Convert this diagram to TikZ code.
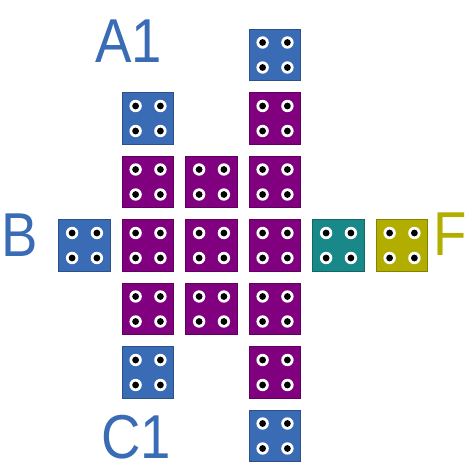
\documentclass[tikz,border=0pt]{standalone}
\usepackage{fontspec}
\setmainfont{Liberation Sans}
\usetikzlibrary{positioning}
\definecolor{pinblue}{RGB}{58,107,181}
\definecolor{pinpurple}{RGB}{128,0,128}
\definecolor{pinteal}{RGB}{24,136,136}
\definecolor{pinolive}{RGB}{178,174,0}
\tikzset{
  header/.style={draw=#1!75!black,fill=#1,line width=0.6pt,minimum size=51.5pt,
    inner sep=0pt,
    path picture={
      \foreach \dx in {-12.4,12.4}
        \foreach \dy in {-12.5,12.5} {
          \fill[white] ([shift={(\dx pt,\dy pt)}]path picture bounding box.center) circle (6.2pt);
          \fill[black] ([shift={(\dx pt,\dy pt)}]path picture bounding box.center) circle (3.4pt);
        }
    }},
  tag/.style={text=#1,anchor=base west,inner sep=0pt,xscale=0.88,transform shape,
    font=\fontsize{62}{62}\selectfont}
}

\begin{document}
\begin{tikzpicture}[x=1pt,y=1pt]
        \useasboundingbox (0,0) rectangle (474,474);
        % top arm
        \node[header=pinblue] (b03) at (275,419) {};
        \node[header=pinblue] (b11) at (148,355.5) {};
        \node[header=pinpurple] (b13) at (275,355.5) {};
        % middle
        \foreach \c/\x in {1/148,2/211.5,3/275} {
          \node[header=pinpurple] (b2\c) at (\x,292) {};
          \node[header=pinpurple] (b3\c) at (\x,228.5) {};
          \node[header=pinpurple] (b4\c) at (\x,165) {};
        }
        \node[header=pinblue] (b30) at (84.5,228.5) {};
        \node[header=pinteal] (b34) at (338.5,228.5) {};
        \node[header=pinolive] (b35) at (402,228.5) {};
        % bottom arm
        \node[header=pinblue] (b51) at (148,101.5) {};
        \node[header=pinpurple] (b53) at (275,101.5) {};
        \node[header=pinblue] (b63) at (275,38) {};
        % labels
        \node[tag=pinblue] (la) at (95,411) {A1};
        \node[tag=pinblue] (lb) at (1,217) {B};
        \node[tag=pinolive] (lf) at (433,218) {F};
        \node[tag=pinblue] (lc) at (101,16) {C1};
      \end{tikzpicture}
\end{document}
